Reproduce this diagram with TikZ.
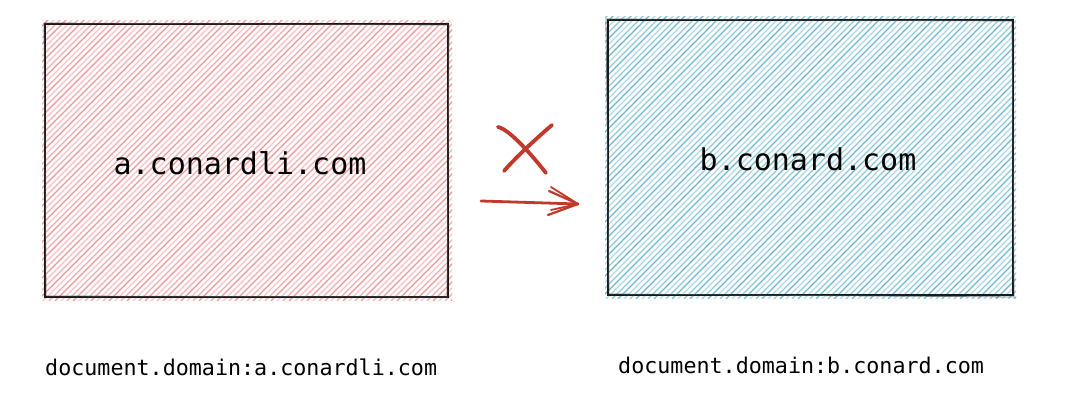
\documentclass[tikz,border=0pt]{standalone}
\usepackage{fontspec}
\newfontfamily\codefont{DejaVu Sans Mono}
\definecolor{pinkline}{RGB}{238,138,138}
\definecolor{blueline}{RGB}{92,180,202}
\definecolor{redmark}{RGB}{192,57,43}
\tikzset{
  boxedge/.style={draw=black!90, line width=1.6pt},
  boxedge2/.style={draw=black!70, line width=0.8pt, opacity=0.7},
  bigtext/.style={font=\codefont\fontsize{30}{36}\selectfont, inner sep=0pt},
  smalltext/.style={font=\codefont\fontsize{21.7}{26}\selectfont, inner sep=0pt, anchor=west},
  redstroke/.style={draw=redmark, line width=2.8pt, line cap=round},
}
\begin{document}
\begin{tikzpicture}[x=1pt,y=-1pt]
\useasboundingbox (0,0) rectangle (1080,411);
\fill[white] (0,0) rectangle (1080,411);
% left hatch
\begin{scope}
\clip (42,21) rectangle (452,301);
\foreach \i [count=\k] in {-290,-284,...,420}{
  \pgfmathsetmacro{\op}{mod(\k,3)==0 ? 0.9 : (mod(\k,3)==1 ? 0.5 : 0.7)}
  \draw[pinkline, line width=1.1pt, opacity=\op] (45+\i,301) -- ++(292,-292);
}
\end{scope}
% right hatch
\begin{scope}
\clip (605,17) rectangle (1016,299);
\foreach \i [count=\k] in {-290,-284,...,420}{
  \pgfmathsetmacro{\op}{mod(\k,3)==0 ? 0.9 : (mod(\k,3)==1 ? 0.5 : 0.7)}
  \draw[blueline, line width=1.1pt, opacity=\op] (608+\i,299) -- ++(292,-292);
}
\end{scope}
% boxes
\node[boxedge, rectangle, minimum width=403pt, minimum height=273pt, inner sep=0pt] (boxa) at (246.5,160.5) {};
\draw[boxedge2] (44,23) -- (449,25) -- (447,297) -- (46,296) -- cycle;
\node[boxedge, rectangle, minimum width=405pt, minimum height=275pt, inner sep=0pt] (boxb) at (810.5,157.5) {};
\draw[boxedge2] (606,19) -- (1012,21) -- (1014,297) -- (609,294) -- cycle;
% texts
\node[bigtext] (ta) at (240,163) {a.conardli.com};
\node[bigtext] (tb) at (808,159) {b.conard.com};
\node[smalltext] (la) at (45,367) {document.domain:a.conardli.com};
\node[smalltext] (lb) at (618,365) {document.domain:b.conard.com};
% arrow and cross
\coordinate (as) at (481,201);
\coordinate (ae) at (578,204);
\draw[redstroke] (as) -- (ae);
\draw[redstroke, line width=2.2pt] (ae) -- (549,191);
\draw[redstroke, line width=1.8pt] (ae) -- (551,187);
\draw[redstroke, line width=2.2pt] (ae) -- (548,215);
\draw[redstroke, line width=1.8pt] (ae) -- (551,210);
\coordinate (x1) at (498,127);
\coordinate (x2) at (546,173);
\coordinate (x3) at (552,125);
\coordinate (x4) at (504,171);
\draw[redstroke, line width=3.8pt] (x1) .. controls (508,129) and (528,150) .. (x2);
\draw[redstroke, line width=3.8pt] (x3) .. controls (538,137) and (516,157) .. (x4);
\end{tikzpicture}
\end{document}
